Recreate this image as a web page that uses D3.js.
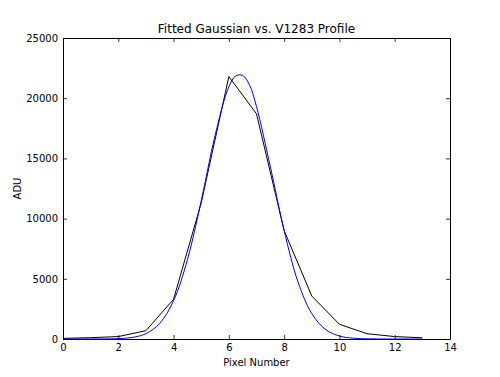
<!DOCTYPE html>
<html>
<head>
<meta charset="utf-8">
<script src="https://cdnjs.cloudflare.com/ajax/libs/d3/7.8.5/d3.min.js"></script>
<style>
  body { margin: 0; background: #fff; }
  svg text { font-family: "DejaVu Sans", sans-serif; }
</style>
</head>
<body>
<div id="chart"></div>
<script>
// measured profile (black)
var pixelNum = [0, 1, 2, 3, 4, 5, 6, 7, 8, 9, 10, 11, 12, 13];
var profileAdu = [50, 110, 200, 690, 3300, 11300, 21800, 18700, 9000, 3570, 1220, 440, 200, 100];

// fitted gaussian (blue)
var fitX = [0, 0.5, 1, 1.5, 2, 2.5, 3, 3.5, 4, 4.5, 5, 5.5, 6, 6.25, 6.5, 6.75, 7, 7.5, 8, 8.5, 9, 9.5, 10, 10.5, 11, 11.5, 12, 12.5, 13];
var fitAdu = [0, 0, 1, 6, 31, 128, 445, 1300, 3180, 6580, 11470, 16890, 20950, 21850, 21890, 21090, 19300, 14320, 9000, 4750, 2110, 790, 250, 66, 15, 3, 0, 0, 0];

var xTicks = [0, 2, 4, 6, 8, 10, 12, 14];
var yTicks = [0, 5000, 10000, 15000, 20000, 25000];

var width = 500, height = 377;
var margin = {left: 63, right: 50, top: 38, bottom: 38};

var svg = d3.select('#chart').append('svg')
    .attr('width', width)
    .attr('height', height);

var x = d3.scaleLinear().domain([0, 14]).range([margin.left, width - margin.right]);
var y = d3.scaleLinear().domain([0, 25000]).range([height - margin.bottom, margin.top]);

// clip so the lines stay in the frame
svg.append('clipPath').attr('id', 'plotClip')
  .append('rect')
    .attr('x', x(0)).attr('y', y(25000))
    .attr('width', x(14) - x(0)).attr('height', y(0) - y(25000));

var line = d3.line()
    .x(function(d) { return x(d[0]); })
    .y(function(d) { return y(d[1]); });

var plot = svg.append('g').attr('clip-path', 'url(#plotClip)');

plot.append('path')
    .datum(d3.zip(pixelNum, profileAdu))
    .attr('d', line)
    .attr('fill', 'none')
    .attr('stroke', '#000')
    .attr('stroke-width', 1);

plot.append('path')
    .datum(d3.zip(fitX, fitAdu))
    .attr('d', line.curve(d3.curveCatmullRom.alpha(0.5)))
    .attr('fill', 'none')
    .attr('stroke', '#0000ff')
    .attr('stroke-width', 1);

// axes, matplotlib classic: inward ticks on all sides
var tickLen = 4;
var axBottom = svg.append('g').attr('transform', 'translate(0,' + y(0) + ')')
    .call(d3.axisBottom(x).tickValues(xTicks).tickSizeInner(-tickLen).tickSizeOuter(0).tickPadding(5));
var axTop = svg.append('g').attr('transform', 'translate(0,' + y(25000) + ')')
    .call(d3.axisTop(x).tickValues(xTicks).tickSizeInner(-tickLen).tickSizeOuter(0).tickFormat(''));
var axLeft = svg.append('g').attr('transform', 'translate(' + x(0) + ',0)')
    .call(d3.axisLeft(y).tickValues(yTicks).tickSizeInner(-tickLen).tickSizeOuter(0).tickPadding(5).tickFormat(d3.format('d')));
var axRight = svg.append('g').attr('transform', 'translate(' + x(14) + ',0)')
    .call(d3.axisRight(y).tickValues(yTicks).tickSizeInner(-tickLen).tickSizeOuter(0).tickFormat(''));

[axBottom, axTop, axLeft, axRight].forEach(function(g) {
  g.select('.domain').attr('stroke', '#000').attr('stroke-width', 1);
  g.selectAll('.tick line').attr('stroke', '#000').attr('stroke-width', 0.8);
  g.selectAll('.tick text').attr('fill', '#000').style('font-size', '10px')
    .style('font-family', '"DejaVu Sans", sans-serif');
});

// title and labels
svg.append('text')
    .attr('x', (x(0) + x(14)) / 2)
    .attr('y', 33)
    .attr('text-anchor', 'middle')
    .style('font-size', '12px')
    .text('Fitted Gaussian vs. V1283 Profile');

svg.append('text')
    .attr('x', (x(0) + x(14)) / 2)
    .attr('y', 366)
    .attr('text-anchor', 'middle')
    .style('font-size', '10px')
    .text('Pixel Number');

svg.append('text')
    .attr('transform', 'translate(21,' + ((y(0) + y(25000)) / 2) + ') rotate(-90)')
    .attr('text-anchor', 'middle')
    .style('font-size', '10px')
    .text('ADU');
</script>
</body>
</html>
